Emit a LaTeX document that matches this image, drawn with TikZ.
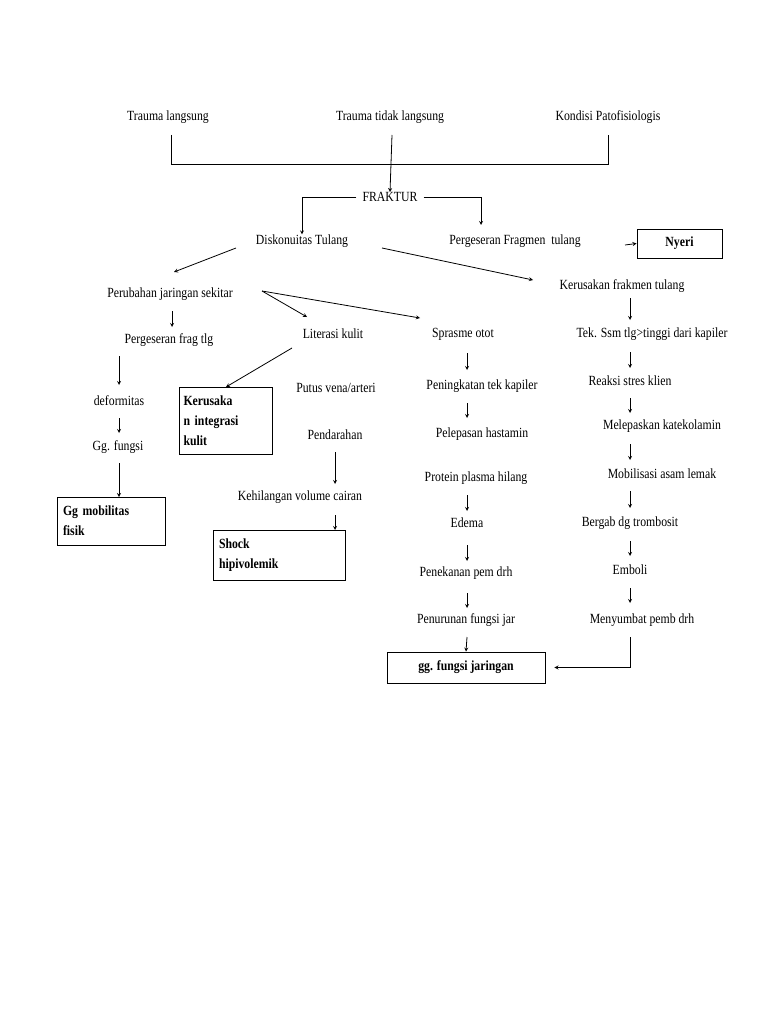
\documentclass[tikz,border=0pt]{standalone}
\usepackage{fontspec}
\setmainfont{Liberation Serif}[FakeStretch=0.84]
\begin{document}
\begin{tikzpicture}[x=1pt,y=-1pt,
  t/.style={inner sep=0pt,font=\fontsize{14}{16}\selectfont},
  bx/.style={draw,line width=0.8pt,inner sep=0pt,font=\fontsize{14}{20}\selectfont\bfseries,align=left},
  a/.style={->,>=stealth,line width=0.8pt},
  l/.style={line width=0.8pt}]
\useasboundingbox (0,0) rectangle (768,1024);
\node[t] (t1) at (168,117) {Trauma langsung};
\node[t] (t2) at (390,117) {Trauma tidak langsung};
\node[t] (t3) at (608,117) {Kondisi Patofisiologis};
\coordinate (b1) at (171,164); \coordinate (b3) at (608,164);
\draw[l] (171,135) -- (b1) -- (b3) -- (608,135);
\node[t] (fr) at (390,197) {FRAKTUR};
\draw[a] (392,135) -- (fr.north);
\node[t] (dk) at (302,241) {Diskonuitas Tulang};
\node[t] (pf) at (515,241) {Pergeseran Fragmen\ \ tulang};
\draw[a] (fr.west)++(-6,0) -| (dk.north);
\draw[a] (fr.east)++(6,0) -| (481,225);
\node[draw,line width=0.8pt,minimum width=85pt,minimum height=29pt,font=\fontsize{14}{16}\selectfont\bfseries] (ny) at (679.5,243.5) {Nyeri};
\draw[a] (625,245) -- (ny.west);
\node[t] (pj) at (170,294) {Perubahan jaringan sekitar};
\node[t] (kf) at (622,286) {Kerusakan frakmen tulang};
\draw[a] (236,248) -- (174,272);
\draw[a] (382,248) -- (533,280);
\node[t] (pg) at (169,340) {Pergeseran frag tlg};
\node[t] (lk) at (333,334) {Literasi kulit};
\node[t] (so) at (463,334) {Sprasme otot};
\node[t] (ts) at (652,334) {Tek. Ssm tlg>tinggi dari kapiler};
\draw[a] (262,291) -- (307,317);
\draw[a] (262,291) -- (420,318);
\draw[a] (172,311) -- (172,327);
\draw[a] (630,298) -- (630,320);
\node[t] (df) at (119,401) {deformitas};
\node[t] (gf) at (118,447) {Gg. fungsi};
\draw[a] (119,356) -- (119,385);
\draw[a] (119,418) -- (119,433);
\node[bx,minimum width=108pt,minimum height=48pt,text width=96pt] (gm) at (111,521) {Gg mobilitas\\fisik};
\draw[a] (119,463) -- (119,497);
\node[bx,minimum width=93pt,minimum height=67pt,text width=84pt] (ki) at (225.5,420.5) {Kerusaka\\n integrasi\\kulit};
\draw[a] (292,348) -- (226,387);
\node[t] (pv) at (336,388) {Putus vena/arteri};
\node[t] (pd) at (335,435) {Pendarahan};
\node[t] (kv) at (300,497) {Kehilangan volume cairan};
\draw[a] (335,452) -- (335,484);
\node[bx,minimum width=132pt,minimum height=50pt,text width=120pt] (sh) at (279,555) {Shock\\hipivolemik};
\draw[a] (335,515) -- (335,530);
\node[t] (pk) at (482,386) {Peningkatan tek kapiler};
\node[t] (ph) at (482,434) {Pelepasan hastamin};
\node[t] (pp) at (476,478) {Protein plasma hilang};
\node[t] (ed) at (467,523) {Edema};
\node[t] (pe) at (466,573) {Penekanan pem drh};
\node[t] (pu) at (466,620) {Penurunan fungsi jar};
\node[draw,line width=0.8pt,minimum width=158pt,minimum height=31pt,font=\fontsize{14}{16}\selectfont\bfseries] (gj) at (466,667.5) {gg. fungsi jaringan};
\draw[a] (467,353) -- (467,370);
\draw[a] (467,403) -- (467,418);
\draw[a] (467,495) -- (467,511);
\draw[a] (467,545) -- (467,561);
\draw[a] (467,593) -- (467,608);
\draw[a] (467,637) -- (gj.north);
\node[t] (rs) at (630,381) {Reaksi stres klien};
\node[t] (mk) at (662,426) {Melepaskan katekolamin};
\node[t] (ma) at (662,474) {Mobilisasi asam lemak};
\node[t] (bt) at (630,523) {Bergab dg trombosit};
\node[t] (em) at (630,570) {Emboli};
\node[t] (ms) at (642,620) {Menyumbat pemb drh};
\draw[a] (630,352) -- (630,368);
\draw[a] (630,398) -- (630,413);
\draw[a] (630,444) -- (630,460);
\draw[a] (630,491) -- (630,508);
\draw[a] (630,541) -- (630,556);
\draw[a] (630,588) -- (630,603);
\draw[a] (630,637) |- ([xshift=9pt]gj.east);
\end{tikzpicture}
\end{document}
